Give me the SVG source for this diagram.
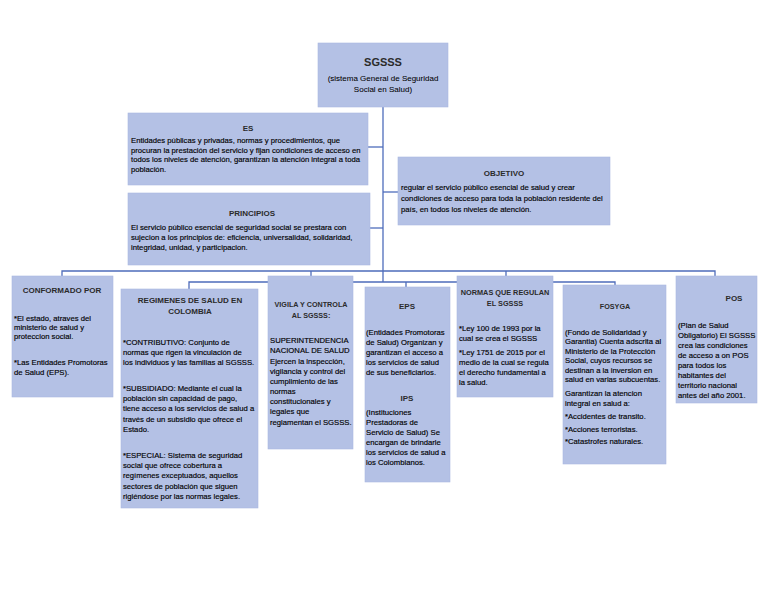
<svg xmlns="http://www.w3.org/2000/svg" width="768" height="594" viewBox="0 0 768 594">
<style>
.box{fill:#b4c1e5;stroke:#aab8e0;stroke-width:0.6}
.t{font-family:"Liberation Sans",Arial,sans-serif;font-size:8px;font-weight:bold;fill:#2b2b2b;text-anchor:middle}
.b{font-family:"Liberation Sans",Arial,sans-serif;font-size:7.7px;fill:#000;stroke:#000;stroke-width:0.15}
.c{text-anchor:middle}
.conn path{fill:none;stroke:#4e6cbb;stroke-width:1.3}
</style>
<rect width="768" height="594" fill="#ffffff"/>
<g class="conn" id="connectors">
<path d="M383 107 V282"/>
<path d="M368 147 H383"/>
<path d="M383 192 H398"/>
<path d="M370 228 H383"/>
<path d="M383 271 H62 V276"/>
<path d="M311 271 V276"/>
<path d="M383 271 H715 V276"/>
<path d="M506 271 V276"/>
<path d="M383 282 H189 V289"/>
<path d="M383 282 H615 V285"/>
<path d="M406 282 V287"/>
</g>
<g id="sgsss">
<rect class="box" x="318" y="43" width="130" height="64"/>
<text class="t" x="383" y="66" style="font-size:11px">SGSSS</text>
<text class="b c" x="383" y="81" style="font-size:8px;stroke-width:0.05">(sistema General de Seguridad</text>
<text class="b c" x="383" y="92" style="font-size:8px;stroke-width:0.05">Social en Salud)</text>
</g>
<g id="es">
<rect class="box" x="128" y="113" width="240" height="72"/>
<text class="t" x="248" y="131">ES</text>
<text class="b" x="131" y="143">Entidades públicas y privadas, normas y procedimientos, que</text>
<text class="b" x="131" y="152.5">procuran la prestación del servicio y fijan condiciones de acceso en</text>
<text class="b" x="131" y="162">todos los niveles de atención, garantizan la atención integral a toda</text>
<text class="b" x="131" y="171.5">población.</text>
</g>
<g id="objetivo">
<rect class="box" x="398" y="157" width="212" height="68"/>
<text class="t" x="504" y="176">OBJETIVO</text>
<text class="b" x="401" y="189.5"> regular el servicio público esencial de salud y crear</text>
<text class="b" x="401" y="200.5">condiciones de acceso para toda la población residente del</text>
<text class="b" x="401" y="211.5">país, en todos los niveles de atención.</text>
</g>
<g id="principios">
<rect class="box" x="128" y="193" width="242" height="72"/>
<text class="t" x="252" y="216">PRINCIPIOS</text>
<text class="b" x="131" y="229.5">El servicio público esencial de seguridad social se prestara con</text>
<text class="b" x="131" y="239.5">sujecion a los principios de: eficiencia, universalidad, solidaridad,</text>
<text class="b" x="131" y="249.5">integridad, unidad, y participacion.</text>
</g>
<g id="conformado">
<rect class="box" x="12" y="276" width="101" height="121"/>
<text class="t" x="62" y="293">CONFORMADO POR</text>
<text class="b" x="14" y="320.5">*El estado, atraves del</text>
<text class="b" x="14" y="329.5">ministerio de salud y</text>
<text class="b" x="14" y="339">proteccion social.</text>
<text class="b" x="14" y="365">*Las Entidades Promotoras</text>
<text class="b" x="14" y="375">de Salud (EPS).</text>
</g>
<g id="regimenes">
<rect class="box" x="121" y="289" width="137" height="219"/>
<text class="t" x="190" y="303">REGIMENES DE SALUD EN</text>
<text class="t" x="190" y="314">COLOMBIA</text>
<text class="b" x="123" y="344.5">*CONTRIBUTIVO: Conjunto de</text>
<text class="b" x="123" y="354.5">normas que rigen la vinculación de</text>
<text class="b" x="123" y="364.5">los individuos y las familias al SGSSS.</text>
<text class="b" x="123" y="390.5">*SUBSIDIADO: Mediante el cual la</text>
<text class="b" x="123" y="400.5">población sin capacidad de pago,</text>
<text class="b" x="123" y="411">tiene acceso a los servicios de salud a</text>
<text class="b" x="123" y="421.5">través de un subsidio que ofrece el</text>
<text class="b" x="123" y="432">Estado.</text>
<text class="b" x="123" y="457.5">*ESPECIAL: Sistema de seguridad</text>
<text class="b" x="123" y="467.5">social que ofrece cobertura a</text>
<text class="b" x="123" y="478">regímenes exceptuados, aquellos</text>
<text class="b" x="123" y="488.5">sectores de población que siguen</text>
<text class="b" x="123" y="498.5">rigiéndose por las normas legales.</text>
</g>
<g id="vigila">
<rect class="box" x="268" y="276" width="85" height="173"/>
<text class="t" x="311" y="307" style="font-size:7.2px">VIGILA Y CONTROLA</text>
<text class="t" x="311" y="317.5" style="font-size:7.2px">AL SGSSS:</text>
<text class="b" x="270" y="342.5">SUPERINTENDENCIA</text>
<text class="b" x="270" y="352.5">NACIONAL DE SALUD</text>
<text class="b" x="270" y="363.5">Ejercen la inspección,</text>
<text class="b" x="270" y="373.5">vigilancia y control del</text>
<text class="b" x="270" y="384">cumplimiento de las</text>
<text class="b" x="270" y="394">normas</text>
<text class="b" x="270" y="404">constitucionales y</text>
<text class="b" x="270" y="414">legales que</text>
<text class="b" x="270" y="424.5">reglamentan el SGSSS.</text>
</g>
<g id="eps">
<rect class="box" x="365" y="287" width="85" height="195"/>
<text class="t" x="407" y="309">EPS</text>
<text class="b" x="366" y="334.5">(Entidades Promotoras</text>
<text class="b" x="366" y="344.5">de Salud) Organizan y</text>
<text class="b" x="366" y="354.5">garantizan el acceso a</text>
<text class="b" x="366" y="364.5">los servicios de salud</text>
<text class="b" x="366" y="375">de sus beneficiarios.</text>
<text class="t" x="407" y="401">IPS</text>
<text class="b" x="366" y="414.5">(Instituciones</text>
<text class="b" x="366" y="424.5">Prestadoras de</text>
<text class="b" x="366" y="434.5">Servicio de Salud) Se</text>
<text class="b" x="366" y="445">encargan de brindarle</text>
<text class="b" x="366" y="455">los servicios de salud a</text>
<text class="b" x="366" y="465">los Colombianos.</text>
</g>
<g id="normas">
<rect class="box" x="457" y="276" width="96" height="121"/>
<text class="t" x="505" y="295" style="font-size:7.3px">NORMAS QUE REGULAN</text>
<text class="t" x="505" y="306" style="font-size:7.3px">EL SGSSS</text>
<text class="b" x="459" y="330.5">*Ley 100 de 1993 por la</text>
<text class="b" x="459" y="340.5">cual se crea el SGSSS</text>
<text class="b" x="459" y="354.5">*Ley 1751 de 2015  por el</text>
<text class="b" x="459" y="364.5">medio de la cual se regula</text>
<text class="b" x="459" y="374.5">el derecho fundamental a</text>
<text class="b" x="459" y="384.5">la salud.</text>
</g>
<g id="fosyga">
<rect class="box" x="563" y="285" width="103" height="179"/>
<text class="t" x="615" y="309" style="font-size:7.2px">FOSYGA</text>
<text class="b" x="565" y="334.5">(Fondo de Solidaridad y</text>
<text class="b" x="565" y="344">Garantia) Cuenta adscrita al</text>
<text class="b" x="565" y="353.5">Ministerio de la Protección</text>
<text class="b" x="565" y="363">Social, cuyos recursos se</text>
<text class="b" x="565" y="372.5">destinan a la inversion en</text>
<text class="b" x="565" y="382">salud en varias subcuentas.</text>
<text class="b" x="565" y="396">Garantizan la atencion</text>
<text class="b" x="565" y="406">integral en salud a:</text>
<text class="b" x="565" y="419">*Accidentes de transito.</text>
<text class="b" x="565" y="431.5">*Acciones terroristas.</text>
<text class="b" x="565" y="444">*Catastrofes  naturales.</text>
</g>
<g id="pos">
<rect class="box" x="676" y="276" width="81" height="127"/>
<text class="t" x="734" y="301">POS</text>
<text class="b" x="678" y="327.5"> (Plan de Salud</text>
<text class="b" x="678" y="338">Obligatorio) El SGSSS</text>
<text class="b" x="678" y="348">crea las condiciones</text>
<text class="b" x="678" y="358">de acceso a on POS</text>
<text class="b" x="678" y="368">para todos los</text>
<text class="b" x="678" y="378">habitantes del</text>
<text class="b" x="678" y="388">territorio nacional</text>
<text class="b" x="678" y="398">antes del año 2001.</text>
</g>
</svg>
